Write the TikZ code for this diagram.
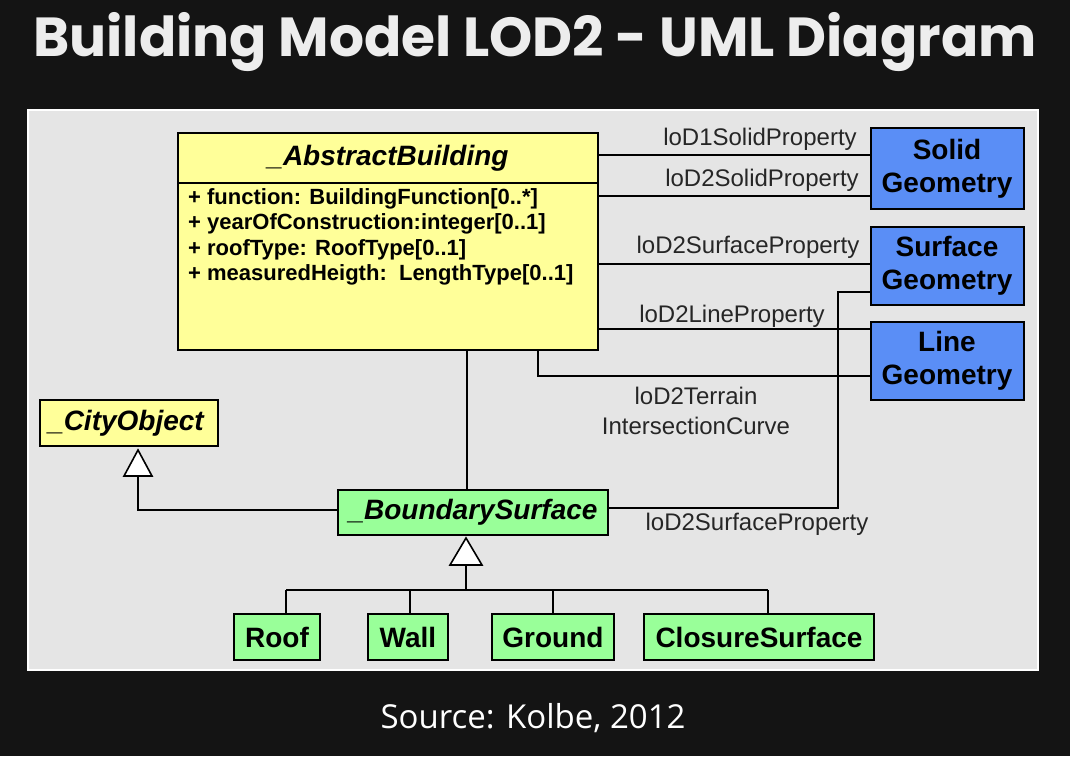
\documentclass[tikz,border=0pt]{standalone}
\usepackage{fontspec}
\setmainfont{Liberation Sans}
\newfontfamily\titlef{Poppins}
\newfontfamily\srcf{Open Sans}
\begin{document}
\begin{tikzpicture}[x=1pt,y=-1pt,
 lab/.style={font=\fontsize{24}{30}\selectfont,text=black!85},
 bx/.style={font=\bfseries\fontsize{28}{34}\selectfont},
 ln/.style={line width=1.6pt}]
\definecolor{bl}{HTML}{5A8EF6}
\definecolor{yl}{HTML}{FFFF99}
\definecolor{gr}{HTML}{99FF99}
\fill[black!92] (0,0) rectangle (1070,756);
\useasboundingbox (0,0) rectangle (1070,756);
\node[text=white!93!black,font=\titlef\bfseries\fontsize{55}{60}\selectfont] (title) at (535,42) {Building Model LOD2 - UML Diagram};
\draw[white,line width=2pt,fill=black!10] (28,110) rectangle (1038,670);
% connectors
\draw[ln] (598,155) -- (871,155);
\draw[ln] (598,196) -- (871,196);
\draw[ln] (598,264) -- (871,264);
\draw[ln] (598,329) -- (871,329);
\draw[ln] (538,350) -- (538,376) -- (871,376);
\draw[ln] (467,350) -- (467,490);
\draw[ln] (608,508) -- (838,508) -- (838,292) -- (871,292);
\draw[ln] (138,476) -- (138,510) -- (338,510);
\draw[ln,fill=white] (138,450) -- (124,476) -- (152,476) -- cycle;
\draw[ln] (466,565) -- (466,590);
\draw[ln] (286,590) -- (768,590);
\draw[ln] (286,590)--(286,614) (410,590)--(410,614) (553,590)--(553,614) (768,590)--(768,614);
\draw[ln,fill=white] (466,538) -- (450,565) -- (482,565) -- cycle;
% boxes
\draw[ln,fill=yl] (178,133) rectangle (598,350);
\draw[ln] (178,183) -- (598,183);
\node[font=\bfseries\itshape\fontsize{28}{30}\selectfont] (ab) at (388,158) {\_AbstractBuilding};
\node[anchor=north west,align=left,font=\bfseries\fontsize{22}{25.5}\selectfont,inner sep=0pt] (attr) at (188,188)
 {+ function: BuildingFunction[0..*]\\+ yearOfConstruction:integer[0..1]\\+ roofType: RoofType[0..1]\\+ measuredHeigth:\ \ LengthType[0..1]};
\draw[ln,fill=yl] (40,400) rectangle (218,446);
\node[font=\bfseries\itshape\fontsize{28}{30}\selectfont] (co) at (126,423) {\_CityObject};
\draw[ln,fill=gr] (338,490) rectangle (608,535);
\node[font=\bfseries\itshape\fontsize{28}{30}\selectfont] (bs) at (473,512) {\_BoundarySurface};
\foreach \a/\b/\t/\n in {234/320/Roof/r,368/448/Wall/w,492/614/Ground/g,644/874/ClosureSurface/c}{
 \draw[ln,fill=gr] (\a,614) rectangle (\b,660);
 \node[bx] (\n) at ({(\a+\b)/2},637) {\t};}
\foreach \y/\z/\t/\n in {128/209/Solid/s,227/305/Surface/u,322/400/Line/l}{
 \draw[ln,fill=bl] (871,\y) rectangle (1024,\z);
 \node[align=center,bx,font=\bfseries\fontsize{28}{33}\selectfont] (\n) at (947,{(\y+\z)/2}) {\t\\Geometry};}
% labels
\node[lab] (l1) at (760,139) {loD1SolidProperty};
\node[lab] (l2) at (762,180) {loD2SolidProperty};
\node[lab] (l3) at (748,247) {loD2SurfaceProperty};
\node[lab] (l4) at (732,316) {loD2LineProperty};
\node[lab,align=center] (l5) at (696,411) {loD2Terrain\\IntersectionCurve};
\node[lab] (l6) at (757,524) {loD2SurfaceProperty};
\node[text=white,font=\srcf\fontsize{33}{36}\selectfont] (src) at (533,718) {Source: Kolbe, 2012};
\end{tikzpicture}
\end{document}
